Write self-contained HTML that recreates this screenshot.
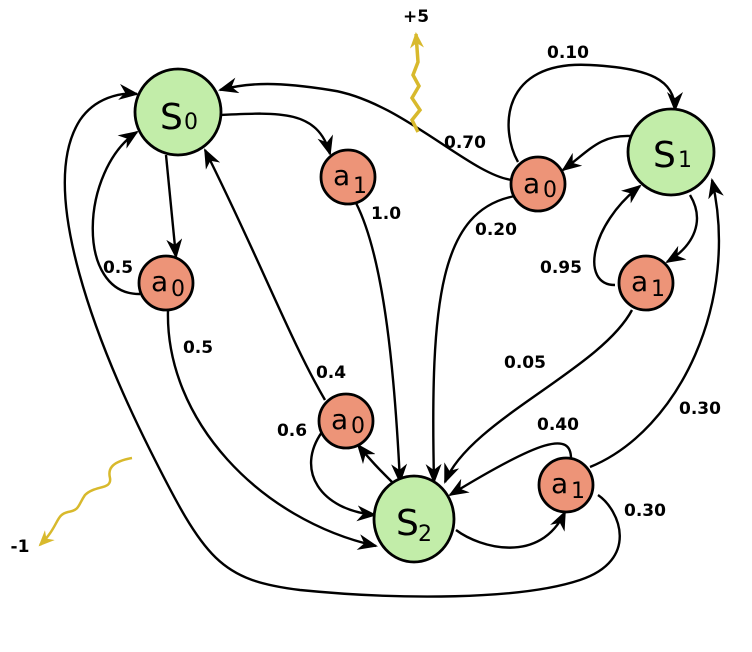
<!DOCTYPE html>
<html><head><meta charset="utf-8"><style>
html,body{margin:0;padding:0;background:#fff;}
svg{display:block;font-family:"DejaVu Sans","Liberation Sans",sans-serif;}
.e{fill:none;stroke:#000;stroke-width:2.4;marker-end:url(#ah);}
.l{font-size:17px;font-weight:bold;fill:#000;text-anchor:middle;}
.s{fill:#c2eda9;stroke:#000;stroke-width:2.8;}
.a{fill:#ed9478;stroke:#000;stroke-width:2.8;}
</style></head><body>
<svg width="752" height="652" viewBox="0 0 752 652">
<defs>
<marker id="ah" markerWidth="20" markerHeight="16" refX="18" refY="8" orient="auto" markerUnits="userSpaceOnUse">
<path d="M0,0 L20,8 L0,16 L6,8 Z" fill="#000"/></marker>
<marker id="yh" markerWidth="16" markerHeight="14" refX="14" refY="7" orient="auto" markerUnits="userSpaceOnUse">
<path d="M0,0 L16,7 L0,14 L5,7 Z" fill="#d8b92c"/></marker>
</defs>
<path class="e" d="M221,115 C280,112 318,110 330,154"/>
<path class="e" d="M166,155 L176,257"/>
<path class="e" d="M140,294 C75,295 80,170 137,132"/>
<path class="e" d="M168,310 C165,420 260,520 376,546"/>
<path class="e" d="M356,203 C385,260 395,380 400,482"/>
<path class="e" d="M512,180 C470,175 400,100 330,90 C280,82 250,82 220,90"/>
<path class="e" d="M515,196 C440,210 430,300 434,482"/>
<path class="e" d="M518,162 C500,130 500,60 590,65 C650,68 675,80 675,110"/>
<path class="e" d="M630,136 C600,135 590,150 563,170"/>
<path class="e" d="M690,195 C705,220 695,245 667,262"/>
<path class="e" d="M615,285 C580,285 590,225 640,186"/>
<path class="e" d="M632,310 C600,370 470,420 445,482"/>
<path class="e" d="M590,467 C680,430 740,300 712,180"/>
<path class="e" d="M571,460 C572,430 540,440 450,495"/>
<path class="e" d="M598,495 C620,510 640,560 580,580 C520,600 400,600 300,590 C220,580 205,560 150,450 C100,350 35,190 80,120 C95,98 120,92 137,94"/>
<path class="e" d="M456,530 C480,548 540,565 565,512"/>
<path class="e" d="M392,482 C380,470 370,460 358,445"/>
<path class="e" d="M325,400 C290,340 260,260 205,150"/>
<path class="e" d="M322,432 C295,470 320,510 375,515"/>
<path d="M418,132 L412,120 L420,110 L412,98 L419,86 L413,75 L418,62 L416,34" fill="none" stroke="#d8b92c" stroke-width="3.5" marker-end="url(#yh)"/>
<path d="M132,458 C110,462 108,470 110,478 C112,490 95,485 85,495 C78,505 80,510 68,512 C55,515 60,525 40,545" fill="none" stroke="#d8b92c" stroke-width="2.5" marker-end="url(#yh)"/>
<circle class="s" cx="178" cy="112" r="43"/>
<circle class="s" cx="671" cy="152" r="43"/>
<ellipse class="s" cx="414" cy="519" rx="40" ry="43"/>
<circle class="a" cx="348" cy="177" r="27"/>
<circle class="a" cx="538" cy="184" r="27"/>
<circle class="a" cx="646" cy="283" r="27"/>
<circle class="a" cx="166" cy="283" r="27"/>
<circle class="a" cx="346" cy="421" r="27"/>
<circle class="a" cx="566" cy="485" r="27"/>
<g font-size="36" fill="#000"><text x="160" y="129">S</text><text x="653" y="167">S</text><text x="396" y="535">S</text></g>
<g font-size="22" fill="#000"><text x="184" y="129">0</text><text x="678" y="167">1</text><text x="418" y="541">2</text></g>
<g font-size="28" fill="#000"><text x="333" y="185">a</text><text x="523" y="193">a</text><text x="631" y="291">a</text><text x="151" y="291">a</text><text x="331" y="429">a</text><text x="551" y="493">a</text></g>
<g font-size="22" fill="#000"><text x="353" y="193">1</text><text x="543" y="197">0</text><text x="651" y="296">1</text><text x="171" y="296">0</text><text x="351" y="433">0</text><text x="571" y="498">1</text></g>
<text class="l" x="416" y="22">+5</text>
<text class="l" x="568" y="58">0.10</text>
<text class="l" x="465" y="148">0.70</text>
<text class="l" x="386" y="219">1.0</text>
<text class="l" x="496" y="235">0.20</text>
<text class="l" x="561" y="273">0.95</text>
<text class="l" x="118" y="273">0.5</text>
<text class="l" x="198" y="353">0.5</text>
<text class="l" x="525" y="368">0.05</text>
<text class="l" x="331" y="378">0.4</text>
<text class="l" x="292" y="436">0.6</text>
<text class="l" x="558" y="430">0.40</text>
<text class="l" x="700" y="414">0.30</text>
<text class="l" x="645" y="516">0.30</text>
<text class="l" x="20" y="552">-1</text>
</svg>
</body></html>
